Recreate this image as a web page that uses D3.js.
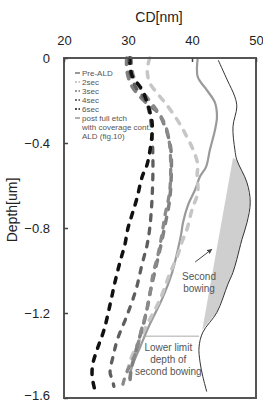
<!DOCTYPE html>
<html>
<head>
<meta charset="utf-8">
<script src="https://cdn.jsdelivr.net/npm/d3@7"></script>
<style>
  body { margin: 0; background: #fff; }
  text { font-family: "Liberation Sans", Arial, sans-serif; }
</style>
</head>
<body>
<div id="chart"></div>
<script>
// CD ticks (top axis) and depth ticks (left axis)
var cdTicks = [20, 30, 40, 50];
var depthTicks = [0, -0.4, -0.8, -1.2, -1.6];

// profiles: [CD nm, depth um]
var preALD = [[29.8,0],[29.8,-0.056],[30.5,-0.127],[31.9,-0.183],[33.4,-0.225],[34.7,-0.258],[35.6,-0.31],[36.2,-0.36],[36.7,-0.43],[36.7,-0.596],[36.4,-0.69],[35.8,-0.784],[35.0,-0.9],[34.2,-1.004],[33.4,-1.112],[32.7,-1.22],[31.9,-1.305],[31.1,-1.394],[30.5,-1.464],[30.3,-1.525]];
var sec2 = [[33.4,0],[33.0,-0.056],[33.4,-0.117],[34.5,-0.164],[35.8,-0.211],[37.7,-0.291],[39.2,-0.371],[40.3,-0.441],[40.9,-0.502],[40.8,-0.549],[40.9,-0.634],[40.0,-0.713],[39.2,-0.807],[38.4,-0.868],[37.7,-0.934],[36.6,-1.009],[35.0,-1.136],[33.4,-1.23],[32.2,-1.3],[31.1,-1.37],[30.3,-1.427],[29.8,-1.5]];
var sec3 = [[30.5,0],[30.8,-0.08],[31.9,-0.14],[33.75,-0.216],[35.0,-0.267],[35.8,-0.314],[36.25,-0.36],[36.6,-0.44],[36.6,-0.596],[36.25,-0.676],[35.8,-0.737],[35.3,-0.83],[34.7,-0.924],[33.9,-1.018],[33.3,-1.136],[32.7,-1.215],[32.0,-1.29],[31.4,-1.37],[30.6,-1.43],[29.8,-1.478],[29.2,-1.535]];
var sec4 = [[30.2,0],[30.3,-0.066],[31.25,-0.14],[32.7,-0.197],[33.4,-0.267],[33.75,-0.36],[33.9,-0.5],[33.75,-0.666],[33.4,-0.8],[33.0,-0.877],[32.2,-0.97],[31.25,-1.09],[29.8,-1.215],[28.4,-1.32],[27.7,-1.4],[27.2,-1.48],[27.5,-1.51],[27.8,-1.545]];
var sec6 = [[30.3,0],[30.6,-0.08],[32.2,-0.15],[33.1,-0.22],[33.75,-0.3],[33.75,-0.36],[33.4,-0.44],[33.0,-0.5],[32.2,-0.56],[31.4,-0.66],[30.6,-0.74],[30.0,-0.8],[29.5,-0.88],[28.75,-0.96],[28.0,-1.05],[27.2,-1.16],[26.25,-1.28],[25.2,-1.37],[24.5,-1.44],[24.4,-1.5],[24.8,-1.56]];
var postEtch = [[40.9,0],[40.9,-0.089],[42.3,-0.15],[43.6,-0.211],[43.9,-0.277],[43.6,-0.338],[42.8,-0.432],[42.2,-0.512],[41.25,-0.558],[40.5,-0.619],[39.4,-0.69],[38.6,-0.774],[38.3,-0.83],[37.8,-0.9],[36.9,-1.009],[35.3,-1.136],[33.4,-1.253],[31.9,-1.36],[30.6,-1.455],[30.2,-1.51]];
var outline = [[44.1,-0.01],[45.5,-0.103],[46.7,-0.183],[47.0,-0.23],[46.4,-0.324],[46.7,-0.432],[47.0,-0.479],[48.6,-0.587],[49.1,-0.68],[48.6,-0.774],[47.8,-0.854],[47.0,-0.948],[46.4,-1.009],[45.6,-1.065],[43.9,-1.197],[41.7,-1.29],[41.1,-1.36],[41.25,-1.43],[41.7,-1.5],[42.3,-1.57]];
// straight inner edge of the second bowing region
var bowingEdge = [[46.4,-0.47],[41.6,-1.28]];

var legendNames = ["Pre-ALD", "2sec", "3sec", "4sec", "6sec", "post full etch", "with coverage cont.", "ALD (fig.10)"];

var W = 263, H = 405;
var x0 = 64, x1 = 256, y0 = 58, y1 = 398;

var svg = d3.select("#chart").append("svg")
    .attr("width", W)
    .attr("height", H);

var x = d3.scaleLinear().domain([20, 50]).range([x0, x1]);
var y = d3.scaleLinear().domain([0, -1.6]).range([y0, y1]);

var line = d3.line()
    .x(function(d){ return x(d[0]) })
    .y(function(d){ return y(d[1]) })
    .curve(d3.curveCatmullRom.alpha(0.5));

// second bowing fill
var fillPts = bowingEdge.slice();
var inner = outline.filter(function(d){ return d[1] < bowingEdge[0][1] && d[1] > bowingEdge[1][1] }).reverse();
fillPts = fillPts.concat(inner);
svg.append("path")
    .attr("d", d3.line().x(function(d){ return x(d[0]) }).y(function(d){ return y(d[1]) })(fillPts) + "Z")
    .attr("fill", "#cfcfcf")
    .attr("stroke", "none");

// profiles
var series = [
    { data: postEtch, color: "#9a9a9a", width: 2.2, dash: null },
    { data: sec2, color: "#c6c6c6", width: 3.5, dash: "6,8" },
    { data: preALD, color: "#808080", width: 3.5, dash: "6.5,8" },
    { data: sec3, color: "#8a8a8a", width: 3.3, dash: "5.5,8" },
    { data: sec4, color: "#5e5e5e", width: 3.3, dash: "5.5,8" },
    { data: sec6, color: "#111", width: 3.5, dash: "5.5,8" },
    { data: outline, color: "#333", width: 1, dash: null }
];

svg.selectAll("path.profile")
    .data(series)
    .enter()
    .append("path")
        .attr("class", "profile")
        .attr("d", function(d){ return line(d.data) })
        .attr("fill", "none")
        .attr("stroke", function(d){ return d.color })
        .attr("stroke-width", function(d){ return d.width })
        .attr("stroke-dasharray", function(d){ return d.dash })
        .attr("stroke-linecap", function(d){ return d.dash ? "round" : "butt" });

// frame
svg.append("rect")
    .attr("x", x0).attr("y", y0)
    .attr("width", x1 - x0).attr("height", y1 - y0)
    .attr("fill", "none")
    .attr("stroke", "#555")
    .attr("stroke-width", 2);

// axes
var topAxis = d3.axisTop(x).tickValues(cdTicks).tickSize(-4).tickPadding(14).tickFormat(d3.format("d"));
var leftAxis = d3.axisLeft(y).tickValues(depthTicks).tickSize(-4).tickPadding(14)
    .tickFormat(function(d){ return d === 0 ? "0" : d3.format(".1f")(d) });

var gx = svg.append("g").attr("transform", "translate(0," + y0 + ")").call(topAxis);
var gy = svg.append("g").attr("transform", "translate(" + x0 + ",0)").call(leftAxis);
[gx, gy].forEach(function(g){
    g.select(".domain").remove();
    g.selectAll("line").attr("stroke", "#444").attr("stroke-width", 1.5);
    g.selectAll("text").attr("font-size", 13).attr("fill", "#222")
        .attr("font-family", "Liberation Sans, Arial, sans-serif");
});
gx.selectAll("text").attr("dy", "0.1em");
// keep the lowest label inside the picture
gy.selectAll("text").filter(function(d){ return d === -1.6 }).attr("dy", "0.15em");

svg.append("text")
    .attr("x", (x0 + x1) / 2 - 1).attr("y", 22)
    .attr("text-anchor", "middle")
    .attr("font-size", 14).attr("fill", "#222")
    .text("CD[nm]");

svg.append("text")
    .attr("transform", "translate(17," + 210 + ") rotate(-90)")
    .attr("text-anchor", "middle")
    .attr("font-size", 14).attr("fill", "#222")
    .text("Depth[um]");

// legend
var legSym = [
    { color: "#777", dash: null },
    { color: "#bbb", dash: "2,1.5" },
    { color: "#777", dash: "2,1.5" },
    { color: "#444", dash: "2,1.5" },
    { color: "#111", dash: "2,1.5" },
    { color: "#999", dash: null }
];
var leg = svg.append("g");
leg.selectAll("line")
    .data(legSym)
    .enter()
    .append("line")
        .attr("x1", 75).attr("x2", 80)
        .attr("y1", function(d, i){ return 73 + i * 9 })
        .attr("y2", function(d, i){ return 73 + i * 9 })
        .attr("stroke", function(d){ return d.color })
        .attr("stroke-width", 1.5)
        .attr("stroke-dasharray", function(d){ return d.dash });
leg.selectAll("text")
    .data(legendNames)
    .enter()
    .append("text")
        .attr("x", 82)
        .attr("y", function(d, i){ return 76 + i * 9 })
        .attr("font-size", 8)
        .attr("fill", "#555")
        .text(function(d){ return d });

// annotations
var arrowFrom = [40.5, -0.96], arrowTo = [43.1, -0.9];
svg.append("defs").append("marker")
    .attr("id", "ah").attr("viewBox", "0 0 10 10")
    .attr("refX", 9).attr("refY", 5)
    .attr("markerWidth", 5).attr("markerHeight", 5)
    .attr("orient", "auto")
    .append("path").attr("d", "M0,0L10,5L0,10Z").attr("fill", "#444");
svg.append("line")
    .attr("x1", x(arrowFrom[0])).attr("y1", y(arrowFrom[1]))
    .attr("x2", x(arrowTo[0])).attr("y2", y(arrowTo[1]))
    .attr("stroke", "#444").attr("stroke-width", 1)
    .attr("marker-end", "url(#ah)");

svg.selectAll("text.bow")
    .data(["Second", "bowing"])
    .enter()
    .append("text")
        .attr("class", "bow")
        .attr("x", x(41.1)).attr("y", function(d, i){ return 280 + i * 12 })
        .attr("text-anchor", "middle")
        .attr("font-size", 10).attr("fill", "#555")
        .text(function(d){ return d });

var lowerLimit = -1.309;
svg.append("line")
    .attr("x1", x(32.3)).attr("x2", x(41.1))
    .attr("y1", y(lowerLimit)).attr("y2", y(lowerLimit))
    .attr("stroke", "#aaa").attr("stroke-width", 1);

svg.selectAll("text.low")
    .data(["Lower limit", "depth of", "second bowing"])
    .enter()
    .append("text")
        .attr("class", "low")
        .attr("x", x(36.3)).attr("y", function(d, i){ return 351 + i * 12 })
        .attr("text-anchor", "middle")
        .attr("font-size", 10).attr("fill", "#555")
        .text(function(d){ return d });
</script>
</body>
</html>
